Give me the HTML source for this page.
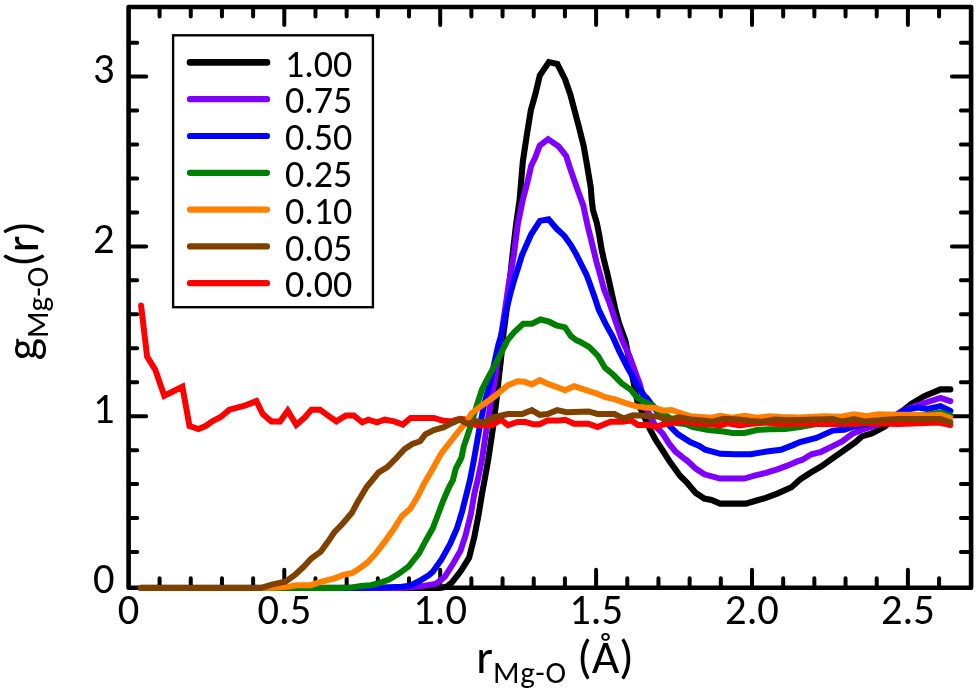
<!DOCTYPE html>
<html><head><meta charset="utf-8"><title>g(r) Mg-O</title>
<style>html,body{margin:0;padding:0;background:#fff;width:979px;height:695px;overflow:hidden}svg{display:block}</style>
</head><body><svg width="979" height="695" viewBox="0 0 979 695"><rect x="128.6" y="7.0" width="842.5" height="580.8" fill="none" stroke="#000" stroke-width="4.6" stroke-linejoin="round"/><path d="M159.58 587.8V578.2M159.58 7.0V16.6M190.76 587.8V578.2M190.76 7.0V16.6M221.94 587.8V578.2M221.94 7.0V16.6M253.12 587.8V578.2M253.12 7.0V16.6M284.30 587.8V569.8M284.30 7.0V25.0M315.48 587.8V578.2M315.48 7.0V16.6M346.66 587.8V578.2M346.66 7.0V16.6M377.84 587.8V578.2M377.84 7.0V16.6M409.02 587.8V578.2M409.02 7.0V16.6M440.20 587.8V569.8M440.20 7.0V25.0M471.38 587.8V578.2M471.38 7.0V16.6M502.56 587.8V578.2M502.56 7.0V16.6M533.74 587.8V578.2M533.74 7.0V16.6M564.92 587.8V578.2M564.92 7.0V16.6M596.10 587.8V569.8M596.10 7.0V25.0M627.28 587.8V578.2M627.28 7.0V16.6M658.46 587.8V578.2M658.46 7.0V16.6M689.64 587.8V578.2M689.64 7.0V16.6M720.82 587.8V578.2M720.82 7.0V16.6M752.00 587.8V569.8M752.00 7.0V25.0M783.18 587.8V578.2M783.18 7.0V16.6M814.36 587.8V578.2M814.36 7.0V16.6M845.54 587.8V578.2M845.54 7.0V16.6M876.72 587.8V578.2M876.72 7.0V16.6M907.90 587.8V569.8M907.90 7.0V25.0M939.08 587.8V578.2M939.08 7.0V16.6M128.6 552.04H137.2M971.1 552.04H960.9M128.6 518.08H137.2M971.1 518.08H960.9M128.6 484.12H137.2M971.1 484.12H960.9M128.6 450.16H137.2M971.1 450.16H960.9M128.6 416.20H146.2M971.1 416.20H951.9M128.6 382.24H137.2M971.1 382.24H960.9M128.6 348.28H137.2M971.1 348.28H960.9M128.6 314.32H137.2M971.1 314.32H960.9M128.6 280.36H137.2M971.1 280.36H960.9M128.6 246.40H146.2M971.1 246.40H951.9M128.6 212.44H137.2M971.1 212.44H960.9M128.6 178.48H137.2M971.1 178.48H960.9M128.6 144.52H137.2M971.1 144.52H960.9M128.6 110.56H137.2M971.1 110.56H960.9M128.6 76.60H146.2M971.1 76.60H951.9M128.6 42.64H137.2M971.1 42.64H960.9" stroke="#000" stroke-width="4" stroke-linecap="round" fill="none"/><path d="M141.0 587.9 L436.3 587.9 L440.0 587.9 L447.0 586.6 L452.0 582.3 L460.5 571.5 L469.1 557.7 L474.3 537.0 L478.6 514.5 L482.0 493.8 L484.6 480.0 L488.3 459.2 L493.0 427.5 L496.2 402.2 L498.6 380.0 L500.9 360.0 L503.4 334.0 L506.6 310.0 L509.3 285.0 L512.5 255.0 L516.0 225.0 L519.6 200.0 L522.8 161.8 L526.7 135.9 L530.8 110.5 L535.3 94.4 L539.8 75.6 L548.9 62.1 L557.3 64.0 L565.1 79.5 L570.3 94.4 L574.5 110.3 L579.2 128.0 L583.7 146.2 L586.9 164.4 L590.8 187.7 L591.7 200.0 L593.0 210.0 L596.8 223.0 L599.4 235.9 L601.5 248.9 L603.8 259.4 L607.7 275.0 L611.0 290.0 L615.0 308.0 L618.8 322.5 L625.5 341.0 L631.5 372.0 L637.6 402.5 L643.5 415.0 L650.0 429.5 L656.0 440.5 L662.5 450.3 L669.0 460.5 L680.0 475.7 L687.2 482.9 L695.7 492.9 L704.3 498.6 L711.5 500.0 L720.0 503.6 L730.0 503.6 L745.8 503.6 L755.8 500.8 L765.8 497.9 L777.2 493.6 L791.5 487.2 L800.1 479.5 L809.8 473.1 L821.2 466.5 L832.7 458.3 L844.1 450.2 L855.6 442.0 L862.1 436.3 L871.9 433.5 L885.0 426.5 L898.1 414.5 L911.1 404.0 L924.2 396.2 L940.5 389.4 L950.4 389.4" fill="none" stroke="#000000" stroke-width="6.1" stroke-linejoin="miter" stroke-miterlimit="3" stroke-linecap="round"/><path d="M141.0 587.9 L401.8 587.9 L422.5 586.1 L436.3 583.6 L444.9 576.7 L453.6 562.8 L460.5 550.8 L465.6 535.2 L470.8 514.5 L474.3 493.8 L477.7 480.0 L482.0 459.2 L486.7 427.5 L491.4 399.0 L494.5 382.0 L500.5 340.0 L505.0 310.0 L508.6 285.0 L513.8 255.0 L517.7 225.0 L522.8 200.0 L527.4 182.5 L531.2 165.7 L535.1 157.9 L539.7 145.6 L548.1 139.1 L558.4 146.2 L566.2 156.0 L570.1 168.3 L574.6 181.2 L579.1 194.1 L583.4 205.8 L587.4 224.8 L592.1 243.8 L596.5 262.0 L600.5 276.0 L604.0 289.2 L609.2 302.1 L614.4 317.7 L621.8 339.4 L629.6 356.2 L636.1 374.3 L640.0 384.7 L645.0 405.0 L650.9 417.8 L656.1 426.8 L662.6 433.3 L669.1 443.7 L675.5 451.5 L683.3 457.9 L687.2 460.7 L695.7 468.6 L704.3 474.3 L720.0 478.6 L744.4 478.6 L754.4 475.7 L765.8 472.9 L777.2 469.3 L787.3 465.7 L797.3 461.4 L802.0 460.0 L811.4 454.3 L821.2 451.8 L832.7 446.1 L842.5 441.2 L852.3 433.8 L862.1 429.7 L875.2 425.7 L888.2 420.5 L901.3 411.5 L914.4 406.2 L927.5 402.0 L940.5 397.9 L950.4 401.1" fill="none" stroke="#8000ff" stroke-width="6.0" stroke-linejoin="miter" stroke-miterlimit="3" stroke-linecap="round"/><path d="M141.0 587.9 L350.0 587.9 L384.5 587.6 L401.8 586.8 L410.0 585.6 L419.3 581.0 L428.7 575.3 L432.8 571.8 L441.5 559.4 L450.1 543.9 L457.0 528.3 L462.2 511.1 L467.4 490.4 L470.0 480.0 L474.0 459.2 L479.6 427.5 L484.3 403.7 L489.1 386.3 L492.8 370.0 L498.3 345.0 L501.3 335.0 L506.4 310.0 L510.5 293.0 L514.2 280.0 L518.0 268.0 L522.0 255.0 L531.2 234.3 L539.9 220.9 L548.6 219.3 L556.7 228.8 L564.4 235.9 L570.9 245.0 L576.1 254.1 L582.6 267.0 L586.5 274.8 L590.4 285.2 L594.9 298.1 L598.8 309.9 L606.3 325.2 L612.8 336.8 L619.2 351.1 L627.0 366.6 L633.5 378.2 L638.6 387.3 L643.8 395.0 L647.0 398.3 L654.8 408.7 L662.6 417.8 L670.4 426.8 L678.1 434.3 L690.2 442.1 L699.3 445.9 L705.3 449.7 L720.4 453.8 L735.5 454.2 L750.6 454.2 L768.7 451.2 L780.8 449.7 L792.9 445.1 L800.0 442.0 L816.3 437.9 L832.7 430.6 L844.1 429.7 L853.9 426.5 L865.4 424.8 L878.4 422.4 L891.5 417.5 L904.6 410.1 L917.7 407.5 L927.5 409.0 L940.5 406.1 L950.4 411.0" fill="none" stroke="#0000ff" stroke-width="6.0" stroke-linejoin="miter" stroke-miterlimit="3" stroke-linecap="round"/><path d="M141.0 587.9 L300.0 587.9 L324.3 587.9 L340.0 587.9 L352.0 587.5 L361.0 586.0 L370.6 585.2 L380.0 582.8 L389.0 579.6 L398.3 574.1 L408.7 566.3 L419.0 553.4 L425.9 540.4 L432.8 528.3 L438.0 514.5 L443.2 500.7 L449.2 486.9 L452.9 480.1 L455.8 468.6 L461.5 457.7 L463.7 446.5 L467.6 435.2 L470.1 427.5 L476.4 406.9 L482.0 389.5 L488.7 376.3 L495.9 363.4 L501.7 351.9 L507.4 340.4 L514.6 331.7 L523.2 323.8 L531.9 323.8 L540.5 319.5 L549.1 321.7 L556.3 325.3 L565.0 327.4 L570.7 336.0 L576.5 340.4 L580.0 341.8 L589.1 347.0 L598.1 356.0 L605.0 367.9 L612.8 374.3 L621.8 383.4 L630.9 389.9 L637.3 397.6 L643.8 401.5 L652.9 405.4 L658.7 411.3 L667.8 416.5 L676.8 423.0 L685.0 424.0 L693.2 427.0 L708.3 430.0 L723.4 431.5 L732.5 433.0 L744.6 433.0 L756.7 430.0 L768.7 429.3 L785.4 429.0 L800.0 427.0 L816.3 424.0 L849.0 422.4 L881.7 421.6 L905.0 419.0 L923.6 415.0 L940.9 412.5 L950.4 415.5" fill="none" stroke="#008000" stroke-width="6.0" stroke-linejoin="miter" stroke-miterlimit="3" stroke-linecap="round"/><path d="M141.1 305.5 L147.1 356.5 L155.2 369.6 L164.3 395.8 L182.4 386.7 L189.5 426.0 L198.5 429.1 L205.6 426.0 L212.7 421.0 L220.7 417.0 L229.4 409.7 L245.6 405.4 L256.4 401.1 L262.8 414.1 L271.5 421.6 L280.1 421.6 L287.7 410.8 L296.3 424.8 L304.9 417.3 L311.4 409.7 L320.0 409.7 L327.8 415.4 L336.4 421.4 L345.9 415.4 L353.7 415.4 L362.3 422.3 L368.3 419.7 L377.0 422.3 L384.7 419.7 L394.2 421.4 L402.8 424.5 L410.6 418.0 L419.2 418.0 L433.9 418.0 L442.5 420.6 L451.2 421.4 L459.8 418.8 L466.7 419.7 L475.3 424.9 L483.0 425.2 L492.2 425.1 L500.9 419.6 L508.1 425.1 L517.6 422.0 L525.5 422.0 L533.4 424.3 L539.7 424.3 L547.6 420.4 L560.0 420.4 L565.2 419.8 L574.2 423.7 L588.5 423.7 L597.5 427.0 L610.5 421.8 L622.1 421.8 L631.3 420.5 L638.0 424.9 L648.3 424.9 L656.1 426.8 L663.9 424.2 L676.8 422.3 L685.0 421.6 L697.8 424.0 L709.8 424.0 L720.4 425.5 L728.0 423.2 L740.0 425.5 L749.1 424.0 L765.7 422.5 L780.8 424.0 L800.0 423.8 L824.5 424.0 L849.0 424.0 L873.5 423.2 L898.1 424.0 L938.9 422.5 L950.4 425.0" fill="none" stroke="#ff0000" stroke-width="6.0" stroke-linejoin="miter" stroke-miterlimit="3" stroke-linecap="round"/><path d="M141.0 587.9 L263.9 587.9 L277.7 587.6 L289.7 586.4 L296.7 585.3 L310.5 585.2 L320.8 581.8 L334.6 578.4 L343.3 574.9 L351.9 573.2 L358.6 568.9 L367.3 562.8 L375.9 553.4 L384.5 542.1 L393.1 530.1 L401.8 516.2 L410.4 508.5 L417.3 497.3 L424.2 483.5 L432.2 469.7 L440.8 454.2 L449.4 443.0 L458.1 431.8 L466.7 421.4 L471.7 413.2 L484.3 403.7 L495.4 395.8 L507.3 385.5 L517.6 381.2 L524.5 381.8 L531.4 384.5 L540.0 380.2 L548.7 384.2 L557.3 387.2 L565.1 390.3 L574.2 386.2 L585.9 390.1 L596.2 393.3 L605.3 397.2 L614.4 399.1 L625.0 402.9 L635.4 406.1 L644.4 407.4 L654.8 408.0 L663.9 410.6 L671.6 410.0 L685.0 414.5 L690.2 416.2 L711.4 417.7 L720.4 415.8 L732.5 417.7 L744.6 415.8 L756.7 417.7 L770.3 416.2 L780.8 417.0 L800.0 417.5 L824.5 416.3 L840.9 416.8 L853.9 414.2 L867.0 416.3 L878.4 414.2 L898.1 414.7 L914.4 414.7 L927.5 415.5 L940.5 414.7 L950.4 418.0" fill="none" stroke="#ff8000" stroke-width="6.0" stroke-linejoin="miter" stroke-miterlimit="3" stroke-linecap="round"/><path d="M141.0 587.9 L261.3 587.9 L272.5 584.4 L285.4 581.8 L294.9 574.9 L303.6 566.8 L311.3 558.5 L320.8 551.6 L327.7 542.1 L334.6 531.8 L341.5 524.9 L351.9 512.8 L357.1 503.0 L366.6 487.0 L378.7 472.3 L387.3 467.2 L395.9 458.5 L404.6 449.0 L412.3 443.9 L420.1 441.3 L425.3 434.4 L433.9 430.1 L443.4 427.5 L449.5 424.3 L459.8 419.5 L468.5 424.2 L475.0 421.0 L484.3 422.7 L493.8 417.2 L508.1 414.0 L522.3 414.0 L531.8 410.1 L539.7 414.8 L547.6 414.0 L557.1 410.1 L566.5 412.2 L588.5 411.4 L597.5 414.0 L614.4 414.0 L623.4 418.5 L632.8 415.2 L644.4 415.8 L657.4 416.5 L667.8 419.7 L679.4 417.2 L690.2 419.5 L700.8 420.2 L712.9 421.7 L723.4 418.7 L738.5 419.5 L750.6 421.0 L762.7 421.7 L774.8 419.5 L788.4 420.2 L800.0 420.0 L832.7 419.1 L842.5 421.6 L853.9 419.1 L865.4 421.6 L881.7 419.9 L898.1 419.1 L922.6 419.1 L940.5 419.1 L950.4 422.4" fill="none" stroke="#804000" stroke-width="6.0" stroke-linejoin="miter" stroke-miterlimit="3" stroke-linecap="round"/><g font-size="42.5" font-family="Carlito, 'Liberation Sans', sans-serif" fill="#000"><text x="128.4" y="624" text-anchor="middle" textLength="21.547" lengthAdjust="spacingAndGlyphs">0</text><text x="284.3" y="624" text-anchor="middle" textLength="53.8125" lengthAdjust="spacingAndGlyphs">0.5</text><text x="440.2" y="624" text-anchor="middle" textLength="53.8125" lengthAdjust="spacingAndGlyphs">1.0</text><text x="596.1" y="624" text-anchor="middle" textLength="53.8125" lengthAdjust="spacingAndGlyphs">1.5</text><text x="752.0" y="624" text-anchor="middle" textLength="53.8125" lengthAdjust="spacingAndGlyphs">2.0</text><text x="907.9" y="624" text-anchor="middle" textLength="53.8125" lengthAdjust="spacingAndGlyphs">2.5</text><text x="114.6" y="592.5" text-anchor="end" textLength="21.547" lengthAdjust="spacingAndGlyphs">0</text><text x="114.6" y="422.7" text-anchor="end" textLength="21.547" lengthAdjust="spacingAndGlyphs">1</text><text x="114.6" y="252.9" text-anchor="end" textLength="21.547" lengthAdjust="spacingAndGlyphs">2</text><text x="114.6" y="83.1" text-anchor="end" textLength="21.547" lengthAdjust="spacingAndGlyphs">3</text></g><rect x="173.1" y="35.3" width="199.8" height="271.9" fill="#fff" stroke="#000" stroke-width="2.4"/><g font-family="Carlito, 'Liberation Sans', sans-serif" fill="#000"><path d="M190 62.4H267" stroke="#000000" stroke-width="6.6" stroke-linecap="round"/><text x="285" y="76.6" font-size="38" textLength="67.375" lengthAdjust="spacingAndGlyphs">1.00</text><path d="M190 99.2H267" stroke="#8000ff" stroke-width="6.2" stroke-linecap="round"/><text x="285" y="113.4" font-size="38" textLength="67.375" lengthAdjust="spacingAndGlyphs">0.75</text><path d="M190 136.0H267" stroke="#0000ff" stroke-width="6.2" stroke-linecap="round"/><text x="285" y="150.2" font-size="38" textLength="67.375" lengthAdjust="spacingAndGlyphs">0.50</text><path d="M190 172.8H267" stroke="#008000" stroke-width="6.2" stroke-linecap="round"/><text x="285" y="187.0" font-size="38" textLength="67.375" lengthAdjust="spacingAndGlyphs">0.25</text><path d="M190 209.6H267" stroke="#ff8000" stroke-width="6.2" stroke-linecap="round"/><text x="285" y="223.8" font-size="38" textLength="67.375" lengthAdjust="spacingAndGlyphs">0.10</text><path d="M190 246.4H267" stroke="#804000" stroke-width="6.2" stroke-linecap="round"/><text x="285" y="260.6" font-size="38" textLength="67.375" lengthAdjust="spacingAndGlyphs">0.05</text><path d="M190 283.2H267" stroke="#ff0000" stroke-width="6.2" stroke-linecap="round"/><text x="285" y="297.4" font-size="38" textLength="67.375" lengthAdjust="spacingAndGlyphs">0.00</text></g><g font-family="Carlito, 'Liberation Sans', sans-serif" fill="#000"><text x="476.3" y="673.4" font-size="48" textLength="16.73" lengthAdjust="spacingAndGlyphs">r</text><text x="493.03" y="683.2" font-size="31" textLength="72.92" lengthAdjust="spacing">Mg-O</text><text x="577.25" y="673.4" font-size="48" textLength="56.5" lengthAdjust="spacingAndGlyphs">(Å)</text></g><g transform="translate(37.8,360.5) rotate(-90)" font-family="Carlito, 'Liberation Sans', sans-serif" fill="#000"><text x="0" y="0" font-size="48" textLength="22.59" lengthAdjust="spacingAndGlyphs">g</text><text x="22.59" y="10.2" font-size="31" textLength="71.13" lengthAdjust="spacingAndGlyphs">Mg-O</text><text x="93.72" y="0" font-size="48" textLength="45.84" lengthAdjust="spacingAndGlyphs">(r)</text></g></svg></body></html>
